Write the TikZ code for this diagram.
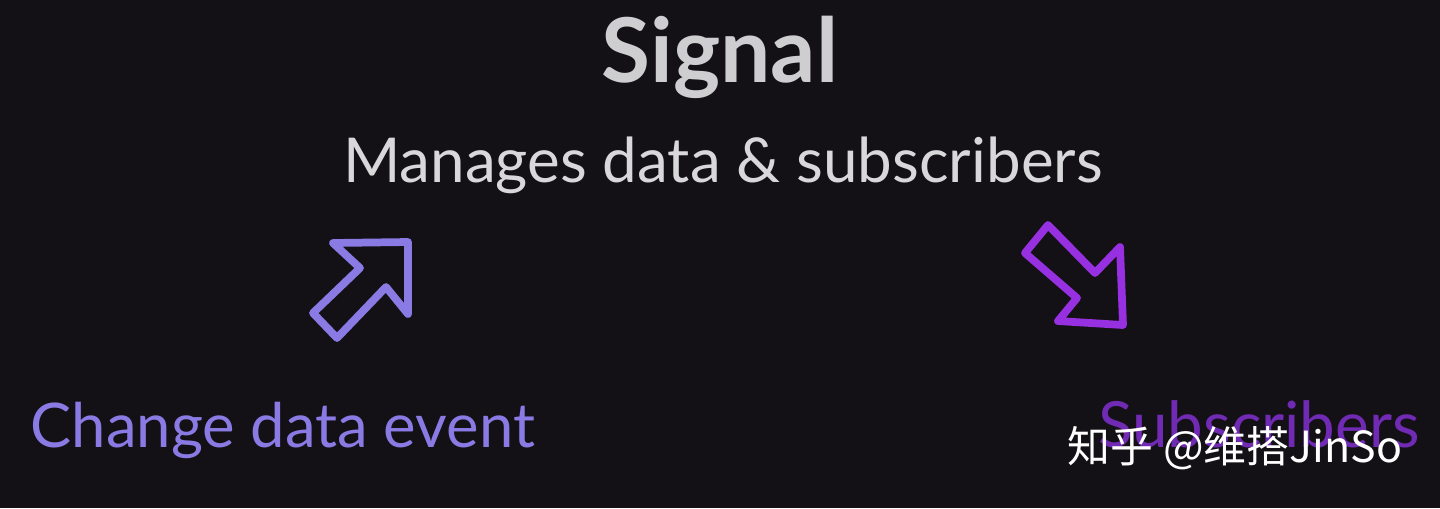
\documentclass[tikz,border=0pt]{standalone}
\usepackage{fontspec}
\setmainfont{Lato}
\newfontfamily\cjk{Noto Sans CJK SC}
\definecolor{bgdark}{RGB}{20,17,22}
\definecolor{titlegray}{RGB}{206,206,208}
\definecolor{subgray}{RGB}{216,216,218}
\definecolor{lavender}{RGB}{138,122,228}
\definecolor{violet}{RGB}{150,48,224}
\definecolor{dimviolet}{RGB}{112,42,180}

\begin{document}
\begin{tikzpicture}[x=0.01cm,y=-0.01cm,
    outline/.style={line width=2.2pt, line join=round}]
                    \useasboundingbox (0,0) rectangle (1440,508);
                    \fill[bgdark] (0,0) rectangle (1440,508);
                    \node[anchor=base, text=titlegray, font=\fontsize{25.4}{30}\selectfont\bfseries] (signal) at (720,82) {Signal};
                    \node[anchor=base, text=subgray, font=\fontsize{17.6}{21}\selectfont] (manages) at (723,182) {Manages data \& subscribers};
                    \draw[outline, lavender] (408,242) -- (333,243) -- (360,268) -- (313,313) -- (337,338) -- (386,287) -- (408,314) -- cycle;
                    \draw[outline, violet] (1123,325) -- (1120,247) -- (1095,273) -- (1048,225) -- (1025,253) -- (1077,298) -- (1058,321) -- cycle;
                    \node[anchor=base west, inner sep=0pt, text=lavender, font=\fontsize{17.5}{21}\selectfont] (change) at (30,447) {Change data event};
                    \node[anchor=base, inner sep=0pt, text=dimviolet, font=\fontsize{18.1}{21}\selectfont] (subs) at (1259,447) {Subscribers};
                    \node[anchor=base west, inner sep=0pt, text=white, font=\fontsize{12.2}{15}\cjk] (mark) at (1067,462) {知乎 @维搭JinSo};
                \end{tikzpicture}
\end{document}
